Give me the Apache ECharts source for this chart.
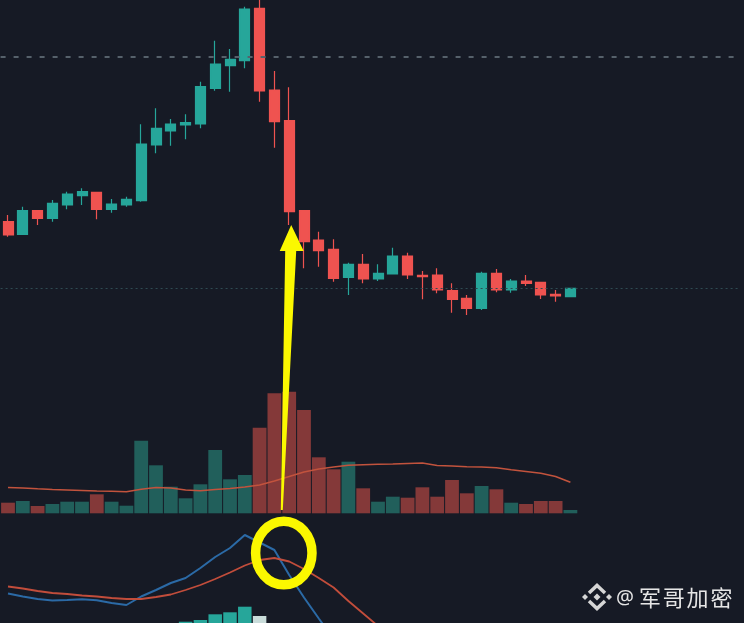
<!DOCTYPE html>
<html>
<head>
<meta charset="utf-8">
<script src="https://cdn.jsdelivr.net/npm/echarts@6/dist/echarts.min.js"></script>
<style>
  html, body { margin: 0; padding: 0; background: #161a25; }
  #chart { width: 744px; height: 623px; }
</style>
</head>
<body>
<div id="chart"></div>
<script>
// 39 bars, then empty slots on the right
const categories = Array.from({ length: 50 }, (_, i) => 'K' + (i + 1))

// [open, close, low, high]
const candles = [
  [178.3, 165, 163.3, 185], [165.7, 189.3, 165, 193.3], [189.3, 181.7, 175, 190],
  [181.7, 196.7, 178.3, 200], [195, 206, 190.7, 208.3], [204.3, 208.3, 195, 211.7],
  [207.7, 190.7, 180.7, 208.3], [190.7, 196, 187.3, 201], [195, 200.7, 193.3, 203.3],
  [199.3, 256, 198.3, 275.7], [255, 271.7, 246.7, 291.7], [269, 276, 254.3, 281],
  [275, 277.3, 260.7, 285.7], [276, 313.3, 271.7, 318.3], [311.7, 336, 309.3, 359.3],
  [334.3, 340.7, 308.3, 351], [339.3, 391, 331.7, 393.3], [391.7, 309, 298.3, 412],
  [310, 278.3, 252.3, 329], [279.3, 188.3, 175, 312.7], [189.3, 158.3, 131.7, 190],
  [160, 149.3, 133.3, 168.3], [150.7, 121.7, 118.3, 160.7], [122.7, 135.7, 105, 137.3],
  [135.7, 121, 116.7, 146], [121, 126.7, 119, 135.7], [126, 144, 126, 152.3],
  [144, 125, 121, 147.3], [124.7, 123.3, 100.7, 129], [125, 110, 106.7, 131.7],
  [109.3, 100.7, 87.3, 116.7], [101.7, 91.7, 85, 105], [91.7, 126.7, 90, 128.3],
  [126.7, 110, 107.7, 131], [110, 119, 107.3, 121], [119, 116.7, 114, 125],
  [117.7, 105, 101, 118.3], [105.7, 104, 98.3, 110], [103.3, 111.7, 103.3, 111.7]
]

const volumes = [
  10.6, 12.3, 7.3, 9.3, 11.6, 11.6, 19, 11.6, 7.6, 72.6,
  48, 26.6, 15, 29, 63.3, 34, 38.3, 85.6, 120, 121.6,
  103.3, 56, 44, 51.6, 25, 11.6, 16.6, 15.6, 26, 16.6,
  33.3, 20, 27.3, 24, 10.6, 9.3, 12.3, 12.3, 3.3
]

const volumeMA = [
  25.8, 25.3, 24.5, 23.8, 23.3, 22.8, 22.3, 22, 21.6, 24,
  25.8, 25.3, 23.3, 22.6, 23.8, 24.8, 26.3, 28.3, 32.3, 36.8,
  41.3, 44.3, 46.3, 48, 48.6, 49.1, 49.3, 49.8, 50.3, 47.8,
  47.3, 46.5, 46.3, 45.5, 43.6, 41.8, 40, 36.8, 31
]

const macdLine = [
  41.5, 38.5, 36, 34.5, 35, 35.7, 34.7, 32, 30, 38.5,
  45, 52, 57, 67, 78, 87, 100, 92.5, 85, 60,
  37.5, 16.5, -4, -20
]

const signalLine = [
  48.5, 46.5, 44, 42, 41, 39.5, 38.5, 37, 36, 36,
  38, 40.5, 45, 50, 56, 62.5, 69.5, 75, 77, 73.5,
  66, 57, 47.5, 34, 21.5, 9, -3, -14
]

const macdHist = [
  -7, -8, -8, -7.5, -6, -4, -4, -5, -6, 2.5,
  7, 11.5, 13.3, 15, 20.7, 22.7, 28.3, 19, 8, -13,
  -28, -40, -51, -54
]

const priceLevels = [343, 111.5]

const UP = '#26a69a'
const DOWN = '#ef5350'

const chart = echarts.init(document.getElementById('chart'))

const gridX = { left: 0.6, width: 740 }
const catAxis = (gridIndex) => ({
  type: 'category',
  gridIndex,
  data: categories,
  boundaryGap: true,
  axisLine: { show: false },
  axisTick: { show: false },
  axisLabel: { show: false },
  splitLine: { show: false }
})
const valAxis = (gridIndex, min, max) => ({
  type: 'value',
  gridIndex,
  min,
  max,
  axisLine: { show: false },
  axisTick: { show: false },
  axisLabel: { show: false },
  splitLine: { show: false }
})

const option = {
  backgroundColor: '#161a25',
  animation: false,
  grid: [
    { ...gridX, top: 0, height: 400 },
    { ...gridX, top: 373.3, height: 140 },
    { ...gridX, top: 516, height: 107 }
  ],
  xAxis: [catAxis(0), catAxis(1), catAxis(2)],
  // the MACD zero line sits just below the bottom edge
  yAxis: [valAxis(0, 0, 400), valAxis(1, 0, 140), valAxis(2, 12, 119)],
  series: [
    {
      name: 'Volume',
      type: 'bar',
      xAxisIndex: 1,
      yAxisIndex: 1,
      barWidth: 13.8,
      data: volumes,
      itemStyle: {
        color: (p) => {
          const c = candles[p.dataIndex]
          return c[1] >= c[0] ? '#215f5b' : '#843939'
        }
      },
      z: 1
    },
    {
      name: 'Vol MA',
      type: 'line',
      xAxisIndex: 1,
      yAxisIndex: 1,
      data: volumeMA,
      symbol: 'none',
      lineStyle: { color: '#c2533d', width: 1.6 },
      z: 2
    },
    {
      name: 'K',
      type: 'candlestick',
      xAxisIndex: 0,
      yAxisIndex: 0,
      barWidth: 10.5,
      data: candles,
      itemStyle: {
        color: UP,
        color0: DOWN,
        borderColor: UP,
        borderColor0: DOWN,
        borderWidth: 1.2
      },
      markLine: {
        silent: true,
        symbol: 'none',
        label: { show: false },
        data: [
          { yAxis: priceLevels[0], lineStyle: { color: '#56616b', type: [5, 8], width: 2 } },
          { yAxis: priceLevels[1], lineStyle: { color: '#2f4b52', type: [2, 3], width: 1 } }
        ]
      },
      z: 3
    },
    {
      name: 'Hist',
      type: 'bar',
      xAxisIndex: 2,
      yAxisIndex: 2,
      barWidth: 13.5,
      data: macdHist,
      itemStyle: {
        color: (p) => {
          const v = p.value
          const prev = macdHist[p.dataIndex - 1]
          const rising = typeof prev !== 'number' || v >= prev
          if (v >= 0) return rising ? '#26a69a' : '#c9dcda'
          return rising ? '#ffcdd2' : '#ff5252'
        }
      }
    },
    {
      name: 'MACD',
      type: 'line',
      xAxisIndex: 2,
      yAxisIndex: 2,
      data: macdLine,
      symbol: 'none',
      lineStyle: { color: '#2b6aa6', width: 2 }
    },
    {
      name: 'Signal',
      type: 'line',
      xAxisIndex: 2,
      yAxisIndex: 2,
      data: signalLine,
      symbol: 'none',
      lineStyle: { color: '#c24d3b', width: 1.8 }
    }
  ]
}

chart.setOption(option)

// annotations anchored to the bars they point at
const YELLOW = '#fbf800'
const tip = chart.convertToPixel({ gridIndex: 0 }, [19, candles[19][2]])
const p19 = chart.convertToPixel({ gridIndex: 1 }, [18, 3.3])
const p20 = chart.convertToPixel({ gridIndex: 1 }, [19, 3.3])
const tailX = (p19[0] + p20[0]) / 2
const tailY = p19[1]
const tx = tip[0] + 2
const ty = tip[1]
const cross = chart.convertToPixel({ gridIndex: 2 }, [18, 82])

const logo = '#d6d6d6'
const name = '军哥加密'

chart.setOption({
  graphic: [
    {
      type: 'polygon',
      z: 100,
      shape: {
        points: [
          [tx, ty], [tx + 12.5, ty + 26], [tx + 5, ty + 26],
          [tailX + 1, tailY], [tailX - 1, tailY],
          [tx - 6, ty + 26], [tx - 11.5, ty + 26]
        ]
      },
      style: { fill: YELLOW }
    },
    {
      type: 'ellipse',
      z: 100,
      shape: { cx: tailX + 2, cy: cross[1], rx: 28.2, ry: 31.8 },
      style: { fill: 'none', stroke: YELLOW, lineWidth: 9.5 }
    },
    {
      type: 'polyline', z: 100,
      shape: { points: [[589, 593], [597, 585.5], [605, 593]] },
      style: { stroke: logo, lineWidth: 3.5, fill: 'none' }
    },
    {
      type: 'polyline', z: 100,
      shape: { points: [[589, 601], [597, 608.5], [605, 601]] },
      style: { stroke: logo, lineWidth: 3.5, fill: 'none' }
    },
    {
      type: 'polygon', z: 100,
      shape: { points: [[597, 593.5], [600.5, 597], [597, 600.5], [593.5, 597]] },
      style: { fill: logo }
    },
    {
      type: 'polygon', z: 100,
      shape: { points: [[585, 594], [588, 597], [585, 600], [582, 597]] },
      style: { fill: logo }
    },
    {
      type: 'polygon', z: 100,
      shape: { points: [[609, 594], [612, 597], [609, 600], [606, 597]] },
      style: { fill: logo }
    },
    {
      type: 'text', z: 100, x: 616, y: 598,
      style: {
        text: '@', fill: '#e6e6e6', font: '20px "Noto Sans"',
        verticalAlign: 'middle'
      }
    },
    ...name.split('').map((ch, i) => ({
      type: 'text', z: 100, x: 639 + i * 23.8, y: 598,
      style: {
        text: ch, fill: '#e6e6e6', font: '22px "Noto Sans CJK SC"',
        verticalAlign: 'middle'
      }
    }))
  ]
})

window.addEventListener('resize', () => chart.resize())
</script>
</body>
</html>
